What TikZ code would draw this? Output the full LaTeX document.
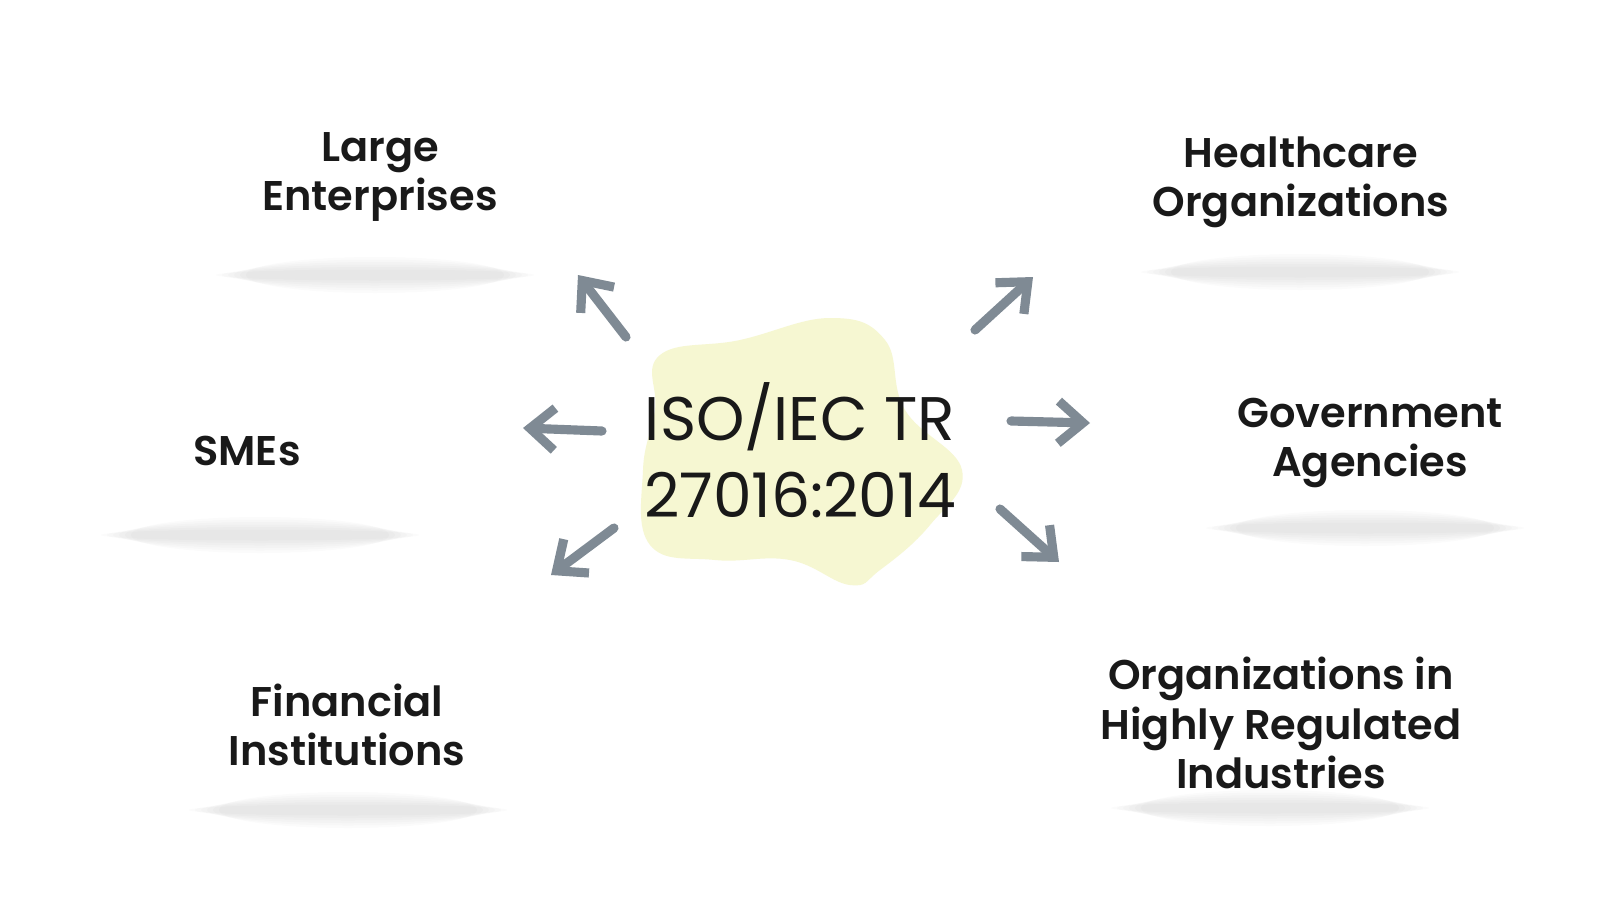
\documentclass[tikz,border=0pt]{standalone}
\usepackage{fontspec}
\setmainfont{Poppins}[BoldFont={Poppins SemiBold}]
\usetikzlibrary{arrows.meta}
\definecolor{blob}{HTML}{F6F7D2}
\definecolor{arr}{HTML}{7F8A94}
\tikzset{
 lbl/.style={font=\fontsize{11.8}{14}\selectfont\bfseries, align=center, text=black!90},
 arw/.style={draw=arr, line width=2.6pt, line cap=round, -{Straight Barb[length=7pt,width=12pt,line width=2.6pt]}},
}
\newcommand{\shad}[3]{%
 \foreach \k in {1,...,6}{\fill[black, opacity=0.014] (#1,#2) ellipse ({#3-\k*6} and {3+\k*2.5});}}
\begin{document}
\begin{tikzpicture}[x=0.01cm,y=-0.01cm]
\useasboundingbox (0,0) rectangle (1600,900);
\fill[white] (0,0) rectangle (1600,900);
\shad{375}{275}{165}
\shad{1300}{272}{165}
\shad{260}{535}{165}
\shad{1365}{528}{165}
\shad{348}{810}{165}
\shad{1270}{808}{165}
\fill[blob] plot[smooth cycle, tension=0.7] coordinates {(660,355)(740,340)(830,318)(885,340)(905,410)(962,470)(930,525)(880,570)(850,585)(790,560)(715,560)(650,545)(643,470)(655,410)};
\node[font=\fontsize{17.5}{22}\selectfont,align=center,text=black!90] (c) at (800,450) {ISO/IEC TR\\27016:2014};
\node[lbl] (le) at (380,177) {Large\\Enterprises};
\node[lbl] (hc) at (1301,182) {Healthcare\\Organizations};
\node[lbl] (sm) at (247,451) {SMEs};
\node[lbl] (ga) at (1370,443) {Government\\Agencies};
\node[lbl] (fi) at (347,725) {Financial\\Institutions};
\node[lbl] (hr) at (1281,723) {Organizations in\\Highly Regulated\\Industries};
\coordinate (a1) at (626,337); \coordinate (b1) at (578,275);
\coordinate (a2) at (975,330); \coordinate (b2) at (1033,277);
\coordinate (a3) at (602,431); \coordinate (b3) at (523,428);
\coordinate (a4) at (1011,421); \coordinate (b4) at (1090,423);
\coordinate (a5) at (614,528); \coordinate (b5) at (551,575);
\coordinate (a6) at (1000,509); \coordinate (b6) at (1059,562);
\foreach \i in {1,...,6}{\draw[arw] (a\i) -- (b\i);}
\end{tikzpicture}
\end{document}
